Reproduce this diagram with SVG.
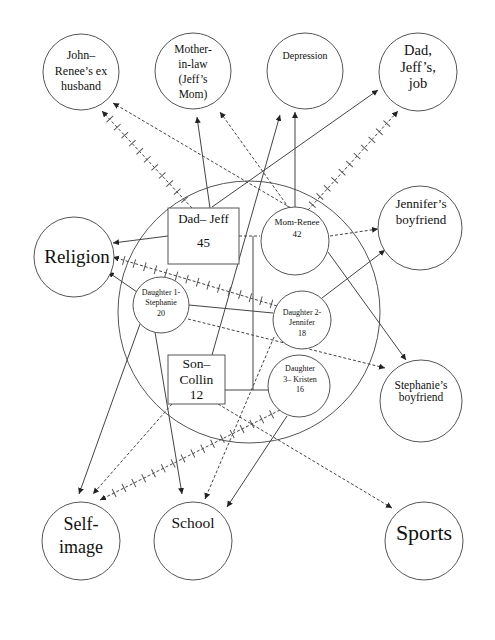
<svg xmlns="http://www.w3.org/2000/svg" width="495" height="640" viewBox="0 0 495 640">
<defs>
<marker id="ah" markerUnits="userSpaceOnUse" markerWidth="8" markerHeight="8" refX="6" refY="3" orient="auto">
<path d="M0,0 L6,3 L0,6 Z" fill="#222"/>
</marker>
<style>
.n{fill:#fff;stroke:#555;stroke-width:1}
.t{font-family:"Liberation Serif","Times New Roman",serif;fill:#111;text-anchor:middle}
.s{fill:none;stroke:#444;stroke-width:1}
.a{marker-end:url(#ah)}
.d{stroke-dasharray:3 2}
.k{fill:none;stroke:#555;stroke-width:9;stroke-dasharray:1 10}
</style>
</defs>
<rect width="495" height="640" fill="#fff"/>
<g id="family-circle"><circle cx="249" cy="312" r="131" class="n" fill="none" style="fill:none"/></g>
<g id="connectors">
<line class="s a" x1="210" y1="208" x2="197" y2="117"/>
<line class="s a" x1="212" y1="207" x2="378" y2="90"/>
<line class="s a" x1="168" y1="236" x2="113" y2="243"/>
<line class="s a" x1="137" y1="292" x2="108" y2="272"/>
<line class="s a" x1="295" y1="207" x2="295" y2="112"/>
<line class="s a" x1="212" y1="355" x2="280" y2="115"/>
<line class="s a" x1="328" y1="252" x2="406" y2="360"/>
<line class="s a" x1="322" y1="298" x2="385" y2="250"/>
<line class="s a" x1="140" y1="324" x2="79" y2="494"/>
<line class="s a" x1="155" y1="332" x2="182" y2="494"/>
<line class="s a" x1="287" y1="416" x2="227" y2="507"/>
<line class="s" x1="225" y1="390" x2="268" y2="390"/>
<line class="s" x1="253" y1="236" x2="253" y2="390"/>
<line class="s" x1="189" y1="305" x2="273" y2="313"/>
<line class="s d" x1="239" y1="236" x2="260" y2="236"/>
<line class="s d a" x1="291" y1="208" x2="113" y2="103"/>
<line class="s d a" x1="289" y1="208" x2="220" y2="112"/>
<line class="s d a" x1="330" y1="236" x2="378" y2="229"/>
<line class="s d a" x1="188" y1="319" x2="385" y2="368"/>
<line class="s d a" x1="218" y1="404" x2="392" y2="508"/>
<line class="s d a" x1="172" y1="404" x2="93" y2="494"/>
<line class="s d a" x1="274" y1="337" x2="205" y2="499"/>
<line class="s d a" x1="192" y1="208" x2="102" y2="111"/>
<line class="k" x1="185" y1="200" x2="108" y2="117"/>
<line class="s d a" x1="308" y1="210" x2="398" y2="111"/>
<line class="k" x1="312" y1="205" x2="392" y2="118"/>
<line class="s d a" x1="277" y1="306" x2="113" y2="257"/>
<line class="k" x1="272" y1="304" x2="122" y2="260"/>
<line class="s d a" x1="280" y1="410" x2="100" y2="500"/>
<line class="k" x1="272" y1="414" x2="108" y2="496"/>
</g>
<g id="john"><circle cx="81" cy="72" r="38" class="n"/>
<text class="t" font-size="12"><tspan x="81" y="59">John–</tspan><tspan x="81" y="75">Renee’s ex</tspan><tspan x="81" y="90">husband</tspan></text></g>
<g id="mother-in-law"><circle cx="193" cy="71" r="38" class="n"/>
<text class="t" font-size="11.5"><tspan x="193" y="53">Mother-</tspan><tspan x="193" y="68">in-law</tspan><tspan x="193" y="83">(Jeff’s</tspan><tspan x="193" y="98">Mom)</tspan></text></g>
<g id="depression"><circle cx="305" cy="71" r="38" class="n"/>
<text class="t" font-size="10" x="305" y="59">Depression</text></g>
<g id="dads-job"><circle cx="418" cy="72" r="39" class="n"/>
<text class="t" font-size="14.5"><tspan x="418" y="55">Dad,</tspan><tspan x="418" y="72">Jeff’s,</tspan><tspan x="418" y="88">job</tspan></text></g>
<g id="jennifers-boyfriend"><circle cx="420" cy="228" r="42" class="n"/>
<text class="t" font-size="13"><tspan x="421" y="208">Jennifer’s</tspan><tspan x="421" y="224">boyfriend</tspan></text></g>
<g id="religion"><circle cx="74" cy="257" r="40" class="n"/>
<text class="t" font-size="19" x="77" y="263">Religion</text></g>
<g id="stephanies-boyfriend"><circle cx="421" cy="401" r="41" class="n"/>
<text class="t" font-size="11.5"><tspan x="421" y="389">Stephanie’s</tspan><tspan x="421" y="401">boyfriend</tspan></text></g>
<g id="self-image"><circle cx="81" cy="541" r="39" class="n"/>
<text class="t" font-size="18"><tspan x="81" y="530">Self-</tspan><tspan x="81" y="553">image</tspan></text></g>
<g id="school"><circle cx="193" cy="541" r="39" class="n"/>
<text class="t" font-size="15.5" x="193" y="528">School</text></g>
<g id="sports"><circle cx="424" cy="541" r="39" class="n"/>
<text class="t" font-size="22" x="424" y="540">Sports</text></g>
<g id="dad-jeff"><rect x="168" y="208" width="71" height="56" class="n"/>
<text class="t" font-size="13"><tspan x="203.5" y="223">Dad– Jeff</tspan><tspan x="203.5" y="247">45</tspan></text></g>
<g id="mom-renee"><circle cx="295" cy="241" r="34" class="n"/>
<text class="t" font-size="9"><tspan x="297" y="225">Mom-Renee</tspan><tspan x="297" y="237">42</tspan></text></g>
<g id="daughter-stephanie"><circle cx="161" cy="305" r="28" class="n"/>
<text class="t" font-size="8"><tspan x="161" y="295">Daughter 1-</tspan><tspan x="161" y="305">Stephanie</tspan><tspan x="161" y="316">20</tspan></text></g>
<g id="daughter-jennifer"><circle cx="302" cy="320" r="29" class="n"/>
<text class="t" font-size="8"><tspan x="302" y="315">Daughter 2-</tspan><tspan x="302" y="325">Jennifer</tspan><tspan x="302" y="336">18</tspan></text></g>
<g id="son-collin"><rect x="168" y="355" width="57" height="49" class="n"/>
<text class="t" font-size="13.5"><tspan x="196.5" y="368">Son–</tspan><tspan x="196.5" y="384">Collin</tspan><tspan x="196.5" y="399">12</tspan></text></g>
<g id="daughter-kristen"><circle cx="299" cy="386" r="31" class="n"/>
<text class="t" font-size="8"><tspan x="300" y="371">Daughter</tspan><tspan x="300" y="382">3– Kristen</tspan><tspan x="300" y="392">16</tspan></text></g>
</svg>
